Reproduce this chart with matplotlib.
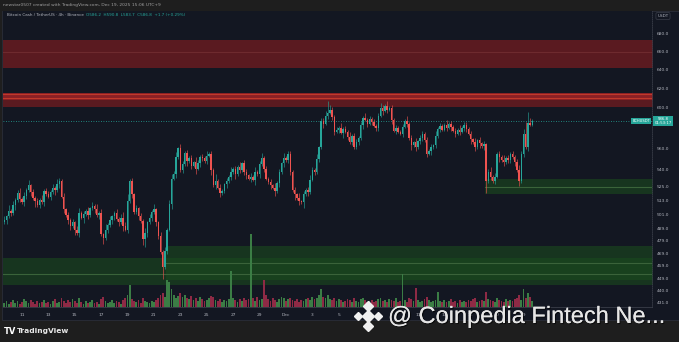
import matplotlib
matplotlib.use("Agg")
import matplotlib.pyplot as plt
import matplotlib.patheffects as pe
from matplotlib.patches import Rectangle
import numpy as np

W, H = 679, 342

# 4h closes, BCH/USDT, Nov 9 16:00 -> Dec 19 16:00
closes = [
    496, 499, 504, 502, 509, 513, 519, 514, 511, 517,
    522, 526, 520, 515, 512, 509, 513, 511, 521, 518,
    516, 520, 524, 522, 527, 530, 516, 505, 500, 496,
    491, 494, 488, 485, 502, 498, 501, 504, 500, 506,
    508, 505, 500, 502, 484, 481, 488, 492, 496, 499,
    502, 497, 494, 498, 491, 488, 512, 530, 518, 503,
    506, 499, 495, 480, 485, 494, 498, 503, 505, 494,
    483, 470, 458, 471, 488, 510, 532, 536, 552, 560,
    540, 545, 556, 548, 551, 544, 547, 541, 546, 552,
    551, 548, 553, 555, 540, 526, 530, 524, 519, 521,
    527, 530, 534, 538, 541, 536, 543, 540, 546, 538,
    535, 532, 534, 531, 538, 536, 545, 551, 541, 532,
    529, 526, 524, 521, 528, 538, 546, 551, 549, 555,
    538, 522, 518, 515, 512, 511, 518, 522, 520, 531,
    540, 538, 550, 561, 587, 584, 592, 595, 598, 591,
    576, 578, 580, 575, 579, 576, 571, 566, 572, 561,
    566, 570, 583, 590, 588, 584, 589, 586, 582, 580,
    592, 600, 597, 602, 598, 600, 588, 577, 580, 576,
    574, 581, 587, 584, 570, 563, 566, 561, 567, 570,
    574, 568, 555, 558, 561, 563, 572, 579, 582, 578,
    583, 580, 584, 581, 577, 574, 578, 576, 580, 583,
    579, 574, 569, 566, 561, 568, 565, 562, 564, 530,
    538, 534, 530, 534, 555, 552, 549, 547, 551, 549,
    555, 552, 547, 540, 530, 555, 574, 561, 585, 583,
    586.8,
]
first_open = 494

# wick lengths, one digit per candle (x1.5 USDT)
upper_wicks = ("2131212312" "1312121312" "2121321212" "1212312121" "2131213121"
               "1212324121" "2121312131" "1212123231" "3212121321" "2131214121"
               "1213121312" "2121312312" "1213121312" "2121312123" "2131223832"
               "1213121312" "2121312121" "2321312121" "1213121312" "2121213121"
               "1312121312" "2121312121" "2312121312" "1212323873" "1")
lower_wicks = ("1212131212" "2121312121" "1213121212" "2131213121" "1212131212"
               "2121312121" "1213421212" "2161213121" "1213121312" "2121312121"
               "1212131212" "2121312121" "1213121212" "2131213121" "1212131212"
               "2121312121" "1213121212" "2131213121" "1212131212" "2121312121"
               "1213121212" "2131213127" "1212131212" "2121312121" "1")

volumes = [
    4, 6, 3, 5, 7, 4, 6, 3, 5, 8,
    6, 4, 7, 5, 3, 6, 4, 5, 7, 4,
    5, 3, 6, 8, 4, 5, 9, 6, 4, 7,
    5, 8, 6, 4, 9, 5, 3, 6, 4, 5,
    7, 4, 5, 3, 8, 10, 6, 4, 5, 7,
    4, 6, 5, 3, 7, 9, 12, 22, 8, 6,
    5, 7, 4, 9, 6, 5, 4, 6, 5, 7,
    9, 12, 14, 10, 27, 25, 18, 12, 9, 11,
    14, 10, 12, 9, 8, 11, 7, 9, 6, 10,
    8, 6, 7, 9, 11, 10, 7, 6, 8, 5,
    7, 6, 8, 36, 9, 7, 5, 8, 6, 9,
    7, 8, 73, 9, 6, 10, 7, 8, 27, 12,
    8, 6, 9, 7, 5, 8, 10, 9, 6, 8,
    9, 7, 6, 8, 5, 7, 6, 8, 9, 7,
    10, 8, 9, 12, 18, 10, 9, 12, 8, 7,
    9, 6, 8, 7, 5, 6, 8, 7, 5, 9,
    6, 5, 8, 9, 7, 5, 6, 7, 5, 6,
    8, 9, 6, 7, 5, 8, 7, 6, 9, 5,
    6, 33, 7, 5, 9, 8, 6, 19, 7, 5,
    6, 8, 10, 7, 5, 6, 7, 15, 6, 5,
    7, 5, 6, 8, 5, 6, 4, 7, 5, 6,
    5, 7, 6, 8, 9, 5, 6, 7, 6, 15,
    8, 7, 6, 5, 9, 7, 6, 5, 8, 6,
    7, 6, 8, 9, 12, 7, 18, 9, 14, 10,
    6,
]

price_ticks = [680, 660, 640, 620, 600, 560, 540, 525, 513, 501, 489, 479,
               469, 459, 449, 440, 431]
date_labels = ["11", "13", "15", "17", "19", "21", "23", "25", "27", "29",
               "Dec", "3", "5", "7", "9", "11", "13", "15", "17", "19"]
date_idx = [8 + 12 * k for k in range(len(date_labels))]

# supply / demand zones: (low, high, start candle)
red_zones = [(642, 673, 0), (601, 615, 0)]
green_zones = [(448, 475, 74), (444, 465, 0), (518, 532, 219)]
zone_lines = [(660, 0, '#6e2a2e'), (614, 0, '#c0392b'), (610.5, 0, '#c0392b'),
              (461, 74, '#3a633a'), (453, 0, '#3a633a'), (525, 219, '#3a633a')]
last_price = 586.8

UP, DOWN = '#26a69a', '#ef5350'
BG = '#131722'
TXT = '#b2b5be'

n = len(closes)
opens = [first_open] + closes[:-1]
up_w = [int(ch) * 1.5 for ch in (upper_wicks + '0' * n)[:n]]
lo_w = [int(ch) * 1.5 for ch in (lower_wicks + '0' * n)[:n]]
highs = [max(o, c) + u for o, c, u in zip(opens, closes, up_w)]
lows = [min(o, c) - l for o, c, l in zip(opens, closes, lo_w)]
x = np.arange(n)
colors = [UP if c >= o else DOWN for o, c in zip(opens, closes)]

fig = plt.figure(figsize=(W / 100, H / 100), dpi=100, facecolor='#1e1e1e')


def fx(px):
    return px / W


def fy(py):
    return 1 - py / H


# chart panel background
fig.patches.append(Rectangle((fx(2), fy(320)), fx(677), 309 / H,
                             transform=fig.transFigure, facecolor=BG,
                             edgecolor='#2a2e39', lw=0.6, zorder=-5))

ax = fig.add_axes([fx(3), fy(307), fx(649), 296 / H])
ax.set_facecolor(BG)
ax.set_yscale('log')
ax.set_ylim(428, 707)
ax.set_xlim(-0.6, 294.4)

for lo, hi, start in red_zones:
    ax.fill_between([start - 0.5, 295], lo, hi, color='#5a1a20', lw=0, zorder=1)
ax.fill_between([-0.5, 295], 608, 615, color='#8a2025', lw=0, zorder=1)
for lo, hi, start in green_zones:
    ax.fill_between([start - 0.5, 295], lo, hi, color='#1a4a1e', alpha=0.6,
                    lw=0, zorder=1)
for y, start, col in zone_lines:
    ax.plot([start - 0.5, 295], [y, y], color=col, lw=0.8, zorder=1.5)

ax.axhline(last_price, color=UP, lw=0.6, ls=(0, (1, 2)), zorder=2)

ax.vlines(x, lows, highs, colors=colors, lw=0.6, alpha=0.7, zorder=3)
bottoms = [min(o, c) for o, c in zip(opens, closes)]
heights = [max(abs(c - o), 0.4) for o, c in zip(opens, closes)]
ax.bar(x, heights, bottom=bottoms, width=0.7, color=colors, lw=0, zorder=4)

# volume pane
axv = ax.twinx()
axv.set_ylim(0, 296)
axv.patch.set_visible(False)
vol_colors = ['#3b7d45' if c == UP else '#8e2a45' for c in colors]
axv.bar(x, volumes, width=0.75, color=vol_colors, lw=0, zorder=2)
axv.set_yticks([])
for s in axv.spines.values():
    s.set_visible(False)

ax.yaxis.tick_right()
ax.set_yticks(price_ticks)
ax.set_yticklabels([f"{p:.1f}" for p in price_ticks])
ax.yaxis.set_minor_locator(matplotlib.ticker.NullLocator())
ax.set_xticks(date_idx)
ax.set_xticklabels(date_labels)
ax.tick_params(axis='both', length=0, labelsize=3.2, colors=TXT)
ax.tick_params(axis='y', pad=3.5)
ax.tick_params(axis='x', pad=4)
for s in ['top', 'left']:
    ax.spines[s].set_visible(False)
ax.spines['right'].set_color('#3a3e49')
ax.spines['right'].set_linestyle((0, (1, 1.5)))
ax.spines['right'].set_linewidth(0.6)
ax.spines['bottom'].set_color('#3a3e49')
ax.spines['bottom'].set_linewidth(0.6)

# header and legend
fig.text(fx(3), fy(5), "newstar0507 created with TradingView.com, Dec 19, 2025 15:06 UTC+9",
         fontsize=3.2, color='#a0a0a0', va='center')
fig.text(fx(7), fy(15), "Bitcoin Cash / TetherUS · 4h · Binance",
         fontsize=3.0, color=TXT, va='center')
fig.text(fx(86), fy(15), "O586.2  H590.8  L583.7  C586.8  +1.7 (+0.29%)",
         fontsize=3.0, color=UP, va='center')

# right axis labels
fig.text(fx(663), fy(16), "USDT", fontsize=3.0, color=TXT, va='center', ha='center',
         bbox=dict(boxstyle='round,pad=0.35', fc=BG, ec='#3a3e49', lw=0.5))
fig.text(fx(641), fy(121), "BCHUSDT", fontsize=2.6, color='white', va='center',
         ha='center', bbox=dict(boxstyle='square,pad=0.35', fc=UP, ec='none'))
fig.text(fx(663), fy(121), "586.8\n01:53:17", fontsize=2.8, color='white',
         va='center', ha='center', linespacing=1.1,
         bbox=dict(boxstyle='square,pad=0.3', fc=UP, ec='none'))

# footer
fig.text(fx(4), fy(331), "TV", fontsize=6, color='white', fontweight='heavy',
         va='center')
fig.text(fx(17), fy(331), "TradingView", fontsize=5.4, color='#e8e8e8',
         fontweight='bold', va='center')

# watermark
shadow = [pe.withSimplePatchShadow(offset=(0.8, -0.8), shadow_rgbFace='black',
                                   alpha=0.6), pe.Normal()]
fig.text(fx(388), fy(317), "@ Coinpedia Fintech Ne...", fontsize=17,
         family='Liberation Sans', color='#e6e6e6', va='center', ha='left',
         path_effects=shadow)
cx, cy = fx(368), fy(316)
for dx, dy, s in [(0, 0, 6), (-10, 0, 4.5), (10, 0, 4.5), (0, -10, 5.5), (0, 10, 5.5)]:
    fig.lines.append(plt.Line2D([cx + dx / W], [cy + dy / H], marker='D',
                                markersize=s, color='#f0f0f0', ls='none',
                                transform=fig.transFigure))

fig.savefig('out.png', dpi=100, facecolor=fig.get_facecolor())
